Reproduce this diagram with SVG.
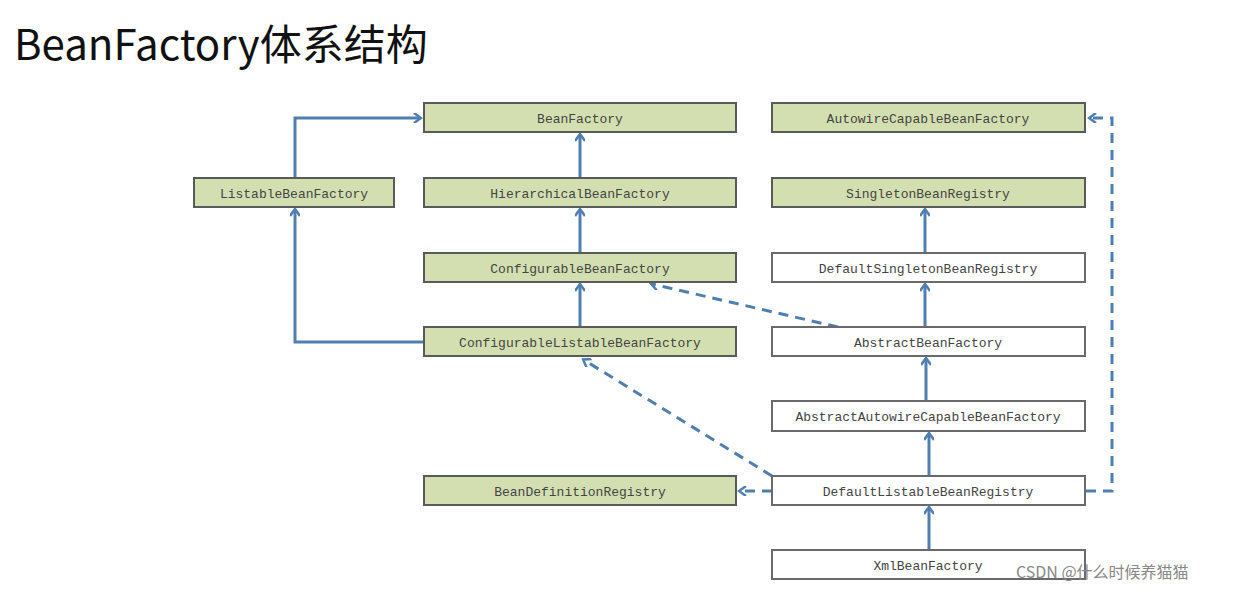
<svg xmlns="http://www.w3.org/2000/svg" width="1244" height="590" viewBox="0 0 1244 590">
<style>
.g rect{fill:#d3dfb0;stroke:#5a5a5a;stroke-width:2}
.w rect{fill:#fff;stroke:#6a6a6a;stroke-width:2}
text.l{font-family:"Liberation Mono",monospace;font-size:13px;fill:#444;text-anchor:middle}
.c path{fill:none;stroke:#4f7fb0;stroke-width:3}
.c .d{stroke-dasharray:10 7}
</style>
<defs><marker id="a" markerWidth="10" markerHeight="10" refX="7" refY="5" orient="auto" markerUnits="userSpaceOnUse"><path d="M1,0 L8,5 L1,10" fill="none" stroke="#4f7fb0" stroke-width="2.5"/></marker></defs>
<rect width="1244" height="590" fill="#fff"/>
<text x="14" y="60" font-family="Noto Sans CJK SC,sans-serif" font-size="42" fill="#111">BeanFactory体系结构</text>
<g class="c">
<path d="M295,178 V118 H420" marker-end="url(#a)"/>
<path d="M424,342 H295 V210" marker-end="url(#a)"/>
<path d="M580,178 V135" marker-end="url(#a)"/>
<path d="M580,253 V210" marker-end="url(#a)"/>
<path d="M580,327 V285" marker-end="url(#a)"/>
<path d="M925,253 V210" marker-end="url(#a)"/>
<path d="M925,327 V285" marker-end="url(#a)"/>
<path d="M926,401 V359" marker-end="url(#a)"/>
<path d="M929,476 V434" marker-end="url(#a)"/>
<path d="M929,550 V508" marker-end="url(#a)"/>
<path class="d" d="M838,327 L652,284" marker-end="url(#a)"/>
<path class="d" d="M772,476 L584,360" marker-end="url(#a)"/>
<path class="d" d="M772,491 H740" marker-end="url(#a)"/>
<path class="d" d="M1086,491 H1112 V118 H1090" marker-end="url(#a)"/>
</g>
<g id="BeanFactory" class="g"><rect x="424" y="103" width="312" height="29"/><text class="l" x="580" y="123">BeanFactory</text></g>
<g id="ListableBeanFactory" class="g"><rect x="194" y="178" width="200" height="29"/><text class="l" x="294" y="198">ListableBeanFactory</text></g>
<g id="HierarchicalBeanFactory" class="g"><rect x="424" y="178" width="312" height="29"/><text class="l" x="580" y="198">HierarchicalBeanFactory</text></g>
<g id="ConfigurableBeanFactory" class="g"><rect x="424" y="253" width="312" height="29"/><text class="l" x="580" y="273">ConfigurableBeanFactory</text></g>
<g id="ConfigurableListableBeanFactory" class="g"><rect x="424" y="327" width="312" height="29"/><text class="l" x="580" y="347">ConfigurableListableBeanFactory</text></g>
<g id="BeanDefinitionRegistry" class="g"><rect x="424" y="476" width="312" height="29"/><text class="l" x="580" y="496">BeanDefinitionRegistry</text></g>
<g id="AutowireCapableBeanFactory" class="g"><rect x="772" y="103" width="313" height="29"/><text class="l" x="928" y="123">AutowireCapableBeanFactory</text></g>
<g id="SingletonBeanRegistry" class="g"><rect x="772" y="178" width="313" height="29"/><text class="l" x="928" y="198">SingletonBeanRegistry</text></g>
<g id="DefaultSingletonBeanRegistry" class="w"><rect x="772" y="253" width="313" height="29"/><text class="l" x="928" y="273">DefaultSingletonBeanRegistry</text></g>
<g id="AbstractBeanFactory" class="w"><rect x="772" y="327" width="313" height="29"/><text class="l" x="928" y="347">AbstractBeanFactory</text></g>
<g id="AbstractAutowireCapableBeanFactory" class="w"><rect x="772" y="401" width="313" height="30"/><text class="l" x="928" y="421">AbstractAutowireCapableBeanFactory</text></g>
<g id="DefaultListableBeanRegistry" class="w"><rect x="772" y="476" width="313" height="29"/><text class="l" x="928" y="496">DefaultListableBeanRegistry</text></g>
<g id="XmlBeanFactory" class="w"><rect x="772" y="550" width="313" height="29"/><text class="l" x="928" y="570">XmlBeanFactory</text></g>
<text x="1016" y="578" font-family="Noto Sans CJK SC,sans-serif" font-size="16" fill="#888">CSDN @什么时候养猫猫</text>
</svg>
